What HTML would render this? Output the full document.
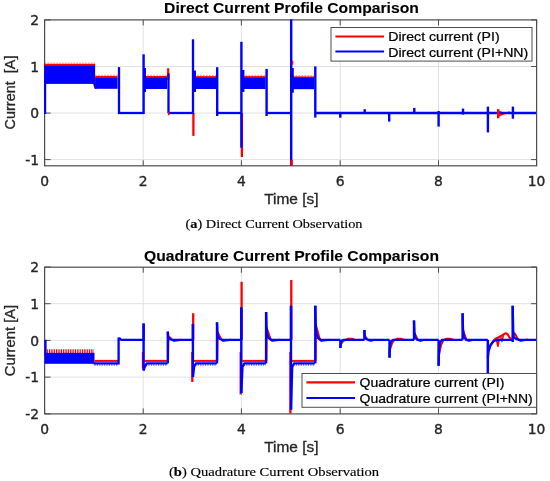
<!DOCTYPE html>
<html><head><meta charset="utf-8"><title>Current Profile Comparison</title>
<style>html,body{margin:0;padding:0;background:#fff;overflow:hidden;}svg{display:block;}</style></head>
<body><svg width="550" height="481" viewBox="0 0 550 481">
<rect width="550" height="481" fill="#fff"/>
<line x1="143.20" y1="19.90" x2="143.20" y2="165.80" stroke="#e2e2e2" stroke-width="1.0" />
<line x1="241.40" y1="19.90" x2="241.40" y2="165.80" stroke="#e2e2e2" stroke-width="1.0" />
<line x1="340.20" y1="19.90" x2="340.20" y2="165.80" stroke="#e2e2e2" stroke-width="1.0" />
<line x1="438.50" y1="19.90" x2="438.50" y2="165.80" stroke="#e2e2e2" stroke-width="1.0" />
<line x1="44.60" y1="66.50" x2="536.60" y2="66.50" stroke="#e2e2e2" stroke-width="1.0" />
<line x1="44.60" y1="113.05" x2="536.60" y2="113.05" stroke="#e2e2e2" stroke-width="1.0" />
<line x1="44.60" y1="159.60" x2="536.60" y2="159.60" stroke="#e2e2e2" stroke-width="1.0" />
<rect x="44.60" y="19.90" width="492.00" height="145.90" fill="none" stroke="#4d4d4d" stroke-width="1.2"/>
<line x1="44.60" y1="165.80" x2="44.60" y2="160.30" stroke="#4d4d4d" stroke-width="1" />
<line x1="44.60" y1="19.90" x2="44.60" y2="25.40" stroke="#4d4d4d" stroke-width="1" />
<line x1="143.20" y1="165.80" x2="143.20" y2="160.30" stroke="#4d4d4d" stroke-width="1" />
<line x1="143.20" y1="19.90" x2="143.20" y2="25.40" stroke="#4d4d4d" stroke-width="1" />
<line x1="241.40" y1="165.80" x2="241.40" y2="160.30" stroke="#4d4d4d" stroke-width="1" />
<line x1="241.40" y1="19.90" x2="241.40" y2="25.40" stroke="#4d4d4d" stroke-width="1" />
<line x1="340.20" y1="165.80" x2="340.20" y2="160.30" stroke="#4d4d4d" stroke-width="1" />
<line x1="340.20" y1="19.90" x2="340.20" y2="25.40" stroke="#4d4d4d" stroke-width="1" />
<line x1="438.50" y1="165.80" x2="438.50" y2="160.30" stroke="#4d4d4d" stroke-width="1" />
<line x1="438.50" y1="19.90" x2="438.50" y2="25.40" stroke="#4d4d4d" stroke-width="1" />
<line x1="536.60" y1="165.80" x2="536.60" y2="160.30" stroke="#4d4d4d" stroke-width="1" />
<line x1="536.60" y1="19.90" x2="536.60" y2="25.40" stroke="#4d4d4d" stroke-width="1" />
<line x1="44.60" y1="19.95" x2="50.60" y2="19.95" stroke="#4d4d4d" stroke-width="1" />
<line x1="536.60" y1="19.95" x2="531.10" y2="19.95" stroke="#4d4d4d" stroke-width="1" />
<line x1="44.60" y1="66.50" x2="50.60" y2="66.50" stroke="#4d4d4d" stroke-width="1" />
<line x1="536.60" y1="66.50" x2="531.10" y2="66.50" stroke="#4d4d4d" stroke-width="1" />
<line x1="44.60" y1="113.05" x2="50.60" y2="113.05" stroke="#4d4d4d" stroke-width="1" />
<line x1="536.60" y1="113.05" x2="531.10" y2="113.05" stroke="#4d4d4d" stroke-width="1" />
<line x1="44.60" y1="159.60" x2="50.60" y2="159.60" stroke="#4d4d4d" stroke-width="1" />
<line x1="536.60" y1="159.60" x2="531.10" y2="159.60" stroke="#4d4d4d" stroke-width="1" />
<line x1="45.10" y1="114.00" x2="45.10" y2="65.80" stroke="#0000ff" stroke-width="2.2" />
<rect x="44.60" y="63.80" width="50.50" height="2.40" fill="#ff0000" />
<line x1="44.60" y1="63.07" x2="95.10" y2="63.07" stroke="#ff0000" stroke-width="0.45" stroke-dasharray="1.59 1.30"/>
<rect x="44.60" y="65.80" width="50.50" height="18.10" fill="#0000ff" />
<polygon points="93.00,83.50 95.60,83.50 96.60,88.80 94.60,88.80" fill="#0000ff"/>
<rect x="95.10" y="75.90" width="22.50" height="2.40" fill="#ff0000" />
<line x1="95.10" y1="75.17" x2="117.60" y2="75.17" stroke="#ff0000" stroke-width="0.45" stroke-dasharray="1.65 1.35"/>
<rect x="95.10" y="77.90" width="22.50" height="10.90" fill="#0000ff" />
<line x1="119.00" y1="67.10" x2="119.00" y2="114.00" stroke="#0000ff" stroke-width="2.3" />
<line x1="118.00" y1="113.00" x2="143.60" y2="113.00" stroke="#0000ff" stroke-width="2.3" />
<line x1="143.60" y1="114.00" x2="143.60" y2="54.30" stroke="#0000ff" stroke-width="2.4" />
<rect x="144.30" y="76.00" width="22.90" height="2.10" fill="#ff0000" />
<line x1="144.30" y1="75.27" x2="167.20" y2="75.27" stroke="#ff0000" stroke-width="0.45" stroke-dasharray="1.65 1.35"/>
<rect x="144.30" y="77.70" width="22.90" height="11.30" fill="#0000ff" />
<rect x="143.60" y="68.00" width="2.40" height="24.00" fill="#0000ff" />
<line x1="168.20" y1="68.30" x2="168.20" y2="80.00" stroke="#ff0000" stroke-width="2.2" />
<line x1="168.50" y1="73.30" x2="168.50" y2="113.00" stroke="#0000ff" stroke-width="2.3" />
<line x1="168.70" y1="112.00" x2="168.70" y2="115.20" stroke="#ff0000" stroke-width="1.8" />
<line x1="169.30" y1="113.00" x2="193.00" y2="113.00" stroke="#0000ff" stroke-width="2.3" />
<line x1="193.40" y1="113.00" x2="193.40" y2="135.90" stroke="#ff0000" stroke-width="2.3" />
<line x1="193.00" y1="114.00" x2="193.00" y2="39.30" stroke="#0000ff" stroke-width="2.3" />
<rect x="194.00" y="76.10" width="22.20" height="2.10" fill="#ff0000" />
<line x1="194.00" y1="75.37" x2="216.20" y2="75.37" stroke="#ff0000" stroke-width="0.45" stroke-dasharray="1.65 1.35"/>
<rect x="194.00" y="77.80" width="22.20" height="11.20" fill="#0000ff" />
<rect x="193.00" y="70.60" width="3.00" height="21.40" fill="#0000ff" />
<line x1="217.20" y1="67.20" x2="217.20" y2="116.00" stroke="#0000ff" stroke-width="2.4" />
<line x1="217.20" y1="113.00" x2="241.40" y2="113.00" stroke="#0000ff" stroke-width="2.3" />
<line x1="241.90" y1="113.00" x2="241.90" y2="157.00" stroke="#ff0000" stroke-width="2.3" />
<line x1="241.40" y1="41.80" x2="241.40" y2="147.70" stroke="#0000ff" stroke-width="2.4" />
<rect x="242.50" y="76.10" width="23.10" height="2.10" fill="#ff0000" />
<line x1="242.50" y1="75.37" x2="265.60" y2="75.37" stroke="#ff0000" stroke-width="0.45" stroke-dasharray="1.65 1.35"/>
<rect x="242.50" y="77.80" width="23.10" height="11.20" fill="#0000ff" />
<rect x="241.40" y="70.00" width="3.00" height="22.00" fill="#0000ff" />
<line x1="266.60" y1="68.90" x2="266.60" y2="116.00" stroke="#0000ff" stroke-width="2.4" />
<line x1="266.60" y1="113.00" x2="291.20" y2="113.00" stroke="#0000ff" stroke-width="2.3" />
<rect x="292.50" y="76.40" width="21.50" height="1.60" fill="#ff0000" />
<line x1="292.50" y1="75.67" x2="314.00" y2="75.67" stroke="#ff0000" stroke-width="0.45" stroke-dasharray="1.65 1.35"/>
<rect x="292.50" y="77.60" width="21.50" height="11.60" fill="#0000ff" />
<rect x="291.20" y="68.00" width="2.60" height="24.80" fill="#0000ff" />
<line x1="291.20" y1="19.30" x2="291.20" y2="165.80" stroke="#0000ff" stroke-width="2.4" />
<line x1="291.60" y1="159.80" x2="291.60" y2="165.80" stroke="#ff0000" stroke-width="2.4" />
<line x1="292.50" y1="60.80" x2="292.50" y2="64.80" stroke="#ff0000" stroke-width="1.6" />
<line x1="315.30" y1="66.40" x2="315.30" y2="117.60" stroke="#0000ff" stroke-width="2.4" />
<line x1="315.30" y1="113.00" x2="536.10" y2="113.00" stroke="#0000ff" stroke-width="2.3" />
<line x1="340.30" y1="113.00" x2="340.30" y2="117.70" stroke="#0000ff" stroke-width="2.4" />
<line x1="364.70" y1="109.20" x2="364.70" y2="113.00" stroke="#0000ff" stroke-width="2.4" />
<line x1="389.20" y1="113.00" x2="389.20" y2="121.60" stroke="#0000ff" stroke-width="2.4" />
<line x1="414.30" y1="107.90" x2="414.30" y2="113.00" stroke="#0000ff" stroke-width="2.4" />
<line x1="438.60" y1="111.00" x2="438.60" y2="126.60" stroke="#0000ff" stroke-width="2.4" />
<line x1="463.00" y1="108.60" x2="463.00" y2="114.60" stroke="#0000ff" stroke-width="2.4" />
<line x1="487.90" y1="106.60" x2="487.90" y2="132.40" stroke="#0000ff" stroke-width="2.4" />
<line x1="512.90" y1="106.60" x2="512.90" y2="118.70" stroke="#0000ff" stroke-width="2.4" />
<line x1="498.20" y1="109.10" x2="498.20" y2="118.30" stroke="#ff0000" stroke-width="2.4" />
<polygon points="499.00,110.80 499.00,116.60 507.00,113.40" fill="#ff0000"/>
<line x1="509.00" y1="111.20" x2="509.00" y2="112.60" stroke="#ff0000" stroke-width="1.2" />
<line x1="499.50" y1="113.00" x2="512.00" y2="113.00" stroke="#0000ff" stroke-width="2.0" />
<text transform="translate(39.00,25.25) scale(1.02,1)" font-family="'DejaVu Sans', 'Liberation Sans', sans-serif" font-size="13.6" font-weight="normal" text-anchor="end" fill="#262626" stroke="#262626" stroke-width="0.35">2</text>
<text transform="translate(39.00,71.80) scale(1.02,1)" font-family="'DejaVu Sans', 'Liberation Sans', sans-serif" font-size="13.6" font-weight="normal" text-anchor="end" fill="#262626" stroke="#262626" stroke-width="0.35">1</text>
<text transform="translate(39.00,118.35) scale(1.02,1)" font-family="'DejaVu Sans', 'Liberation Sans', sans-serif" font-size="13.6" font-weight="normal" text-anchor="end" fill="#262626" stroke="#262626" stroke-width="0.35">0</text>
<text transform="translate(39.00,164.90) scale(1.02,1)" font-family="'DejaVu Sans', 'Liberation Sans', sans-serif" font-size="13.6" font-weight="normal" text-anchor="end" fill="#262626" stroke="#262626" stroke-width="0.35">-1</text>
<text transform="translate(44.60,186.00) scale(1.02,1)" font-family="'DejaVu Sans', 'Liberation Sans', sans-serif" font-size="13.6" font-weight="normal" text-anchor="middle" fill="#262626" stroke="#262626" stroke-width="0.35">0</text>
<text transform="translate(143.20,186.00) scale(1.02,1)" font-family="'DejaVu Sans', 'Liberation Sans', sans-serif" font-size="13.6" font-weight="normal" text-anchor="middle" fill="#262626" stroke="#262626" stroke-width="0.35">2</text>
<text transform="translate(241.40,186.00) scale(1.02,1)" font-family="'DejaVu Sans', 'Liberation Sans', sans-serif" font-size="13.6" font-weight="normal" text-anchor="middle" fill="#262626" stroke="#262626" stroke-width="0.35">4</text>
<text transform="translate(340.20,186.00) scale(1.02,1)" font-family="'DejaVu Sans', 'Liberation Sans', sans-serif" font-size="13.6" font-weight="normal" text-anchor="middle" fill="#262626" stroke="#262626" stroke-width="0.35">6</text>
<text transform="translate(438.50,186.00) scale(1.02,1)" font-family="'DejaVu Sans', 'Liberation Sans', sans-serif" font-size="13.6" font-weight="normal" text-anchor="middle" fill="#262626" stroke="#262626" stroke-width="0.35">8</text>
<text transform="translate(536.60,186.00) scale(1.02,1)" font-family="'DejaVu Sans', 'Liberation Sans', sans-serif" font-size="13.6" font-weight="normal" text-anchor="middle" fill="#262626" stroke="#262626" stroke-width="0.35">10</text>
<rect x="331.0" y="27.5" width="201.0" height="33.6" fill="#fff" stroke="#4d4d4d" stroke-width="1"/>
<line x1="335.40" y1="36.50" x2="384.00" y2="36.50" stroke="#ff0000" stroke-width="2.2" />
<line x1="335.40" y1="51.50" x2="384.00" y2="51.50" stroke="#0000ff" stroke-width="2.2" />
<text transform="translate(388.20,41.10) scale(1.14,1)" font-family="'Liberation Sans', Arial, sans-serif" font-size="12.4" font-weight="normal" text-anchor="start" fill="#000" stroke="#000" stroke-width="0.22">Direct current (PI)</text>
<text transform="translate(388.20,56.50) scale(1.14,1)" font-family="'Liberation Sans', Arial, sans-serif" font-size="12.4" font-weight="normal" text-anchor="start" fill="#000" stroke="#000" stroke-width="0.22">Direct current (PI+NN)</text>
<text transform="translate(291.50,13.40) scale(1.13,1)" font-family="'Liberation Sans', Arial, sans-serif" font-size="13.9" font-weight="bold" text-anchor="middle" fill="#000" stroke="#000" stroke-width="0.1">Direct Current Profile Comparison</text>
<text transform="translate(291.30,204.10) scale(1.12,1)" font-family="'Liberation Sans', Arial, sans-serif" font-size="13.8" font-weight="normal" text-anchor="middle" fill="#262626" stroke="#262626" stroke-width="0.3">Time [s]</text>
<text xml:space="preserve" transform="translate(15.00,92.50) rotate(-90)" font-family="'Liberation Sans', Arial, sans-serif" font-size="14.45" font-weight="normal" text-anchor="middle" fill="#262626" stroke="#262626" stroke-width="0.3">Current  [A]</text>
<text transform="translate(274,228) scale(1.085,1)" font-family="'Liberation Serif', serif" font-size="13.2" text-anchor="middle" fill="#000" stroke="#000" stroke-width="0.15">(<tspan font-weight="bold">a</tspan>) Direct Current Observation</text>
<line x1="143.20" y1="267.20" x2="143.20" y2="413.90" stroke="#e2e2e2" stroke-width="1.0" />
<line x1="241.40" y1="267.20" x2="241.40" y2="413.90" stroke="#e2e2e2" stroke-width="1.0" />
<line x1="340.20" y1="267.20" x2="340.20" y2="413.90" stroke="#e2e2e2" stroke-width="1.0" />
<line x1="438.50" y1="267.20" x2="438.50" y2="413.90" stroke="#e2e2e2" stroke-width="1.0" />
<line x1="44.60" y1="303.70" x2="536.60" y2="303.70" stroke="#e2e2e2" stroke-width="1.0" />
<line x1="44.60" y1="340.40" x2="536.60" y2="340.40" stroke="#e2e2e2" stroke-width="1.0" />
<line x1="44.60" y1="377.10" x2="536.60" y2="377.10" stroke="#e2e2e2" stroke-width="1.0" />
<rect x="44.60" y="267.20" width="492.00" height="146.70" fill="none" stroke="#4d4d4d" stroke-width="1.2"/>
<line x1="44.60" y1="413.90" x2="44.60" y2="408.40" stroke="#4d4d4d" stroke-width="1" />
<line x1="44.60" y1="267.20" x2="44.60" y2="272.70" stroke="#4d4d4d" stroke-width="1" />
<line x1="143.20" y1="413.90" x2="143.20" y2="408.40" stroke="#4d4d4d" stroke-width="1" />
<line x1="143.20" y1="267.20" x2="143.20" y2="272.70" stroke="#4d4d4d" stroke-width="1" />
<line x1="241.40" y1="413.90" x2="241.40" y2="408.40" stroke="#4d4d4d" stroke-width="1" />
<line x1="241.40" y1="267.20" x2="241.40" y2="272.70" stroke="#4d4d4d" stroke-width="1" />
<line x1="340.20" y1="413.90" x2="340.20" y2="408.40" stroke="#4d4d4d" stroke-width="1" />
<line x1="340.20" y1="267.20" x2="340.20" y2="272.70" stroke="#4d4d4d" stroke-width="1" />
<line x1="438.50" y1="413.90" x2="438.50" y2="408.40" stroke="#4d4d4d" stroke-width="1" />
<line x1="438.50" y1="267.20" x2="438.50" y2="272.70" stroke="#4d4d4d" stroke-width="1" />
<line x1="536.60" y1="413.90" x2="536.60" y2="408.40" stroke="#4d4d4d" stroke-width="1" />
<line x1="536.60" y1="267.20" x2="536.60" y2="272.70" stroke="#4d4d4d" stroke-width="1" />
<line x1="44.60" y1="267.00" x2="50.60" y2="267.00" stroke="#4d4d4d" stroke-width="1" />
<line x1="536.60" y1="267.00" x2="531.10" y2="267.00" stroke="#4d4d4d" stroke-width="1" />
<line x1="44.60" y1="303.70" x2="50.60" y2="303.70" stroke="#4d4d4d" stroke-width="1" />
<line x1="536.60" y1="303.70" x2="531.10" y2="303.70" stroke="#4d4d4d" stroke-width="1" />
<line x1="44.60" y1="340.40" x2="50.60" y2="340.40" stroke="#4d4d4d" stroke-width="1" />
<line x1="536.60" y1="340.40" x2="531.10" y2="340.40" stroke="#4d4d4d" stroke-width="1" />
<line x1="44.60" y1="377.10" x2="50.60" y2="377.10" stroke="#4d4d4d" stroke-width="1" />
<line x1="536.60" y1="377.10" x2="531.10" y2="377.10" stroke="#4d4d4d" stroke-width="1" />
<line x1="44.60" y1="413.80" x2="50.60" y2="413.80" stroke="#4d4d4d" stroke-width="1" />
<line x1="536.60" y1="413.80" x2="531.10" y2="413.80" stroke="#4d4d4d" stroke-width="1" />
<line x1="45.50" y1="339.80" x2="45.50" y2="356.00" stroke="#0000ff" stroke-width="2.2" />
<line x1="46.60" y1="351.15" x2="94.00" y2="351.15" stroke="#ff0000" stroke-width="3.9" stroke-dasharray="1.29 1.06"/>
<rect x="44.60" y="352.80" width="49.90" height="11.00" fill="#0000ff" />
<line x1="94.50" y1="360.90" x2="118.20" y2="360.90" stroke="#ff0000" stroke-width="2.0" />
<line x1="93.50" y1="363.40" x2="118.20" y2="363.40" stroke="#0000ff" stroke-width="2.3" />
<line x1="94.50" y1="365.00" x2="118.20" y2="365.00" stroke="#0000ff" stroke-width="1.2" stroke-dasharray="1.1 1.3"/>
<polyline points="118.60,364.40 118.60,338.30 119.60,338.30 121.00,339.80 143.60,339.80" fill="none" stroke="#0000ff" stroke-width="2.3" stroke-linejoin="round" />
<line x1="143.00" y1="352.00" x2="143.00" y2="368.60" stroke="#ff0000" stroke-width="2.3" />
<line x1="144.60" y1="360.90" x2="167.60" y2="360.90" stroke="#ff0000" stroke-width="2.0" />
<polyline points="142.10,339.80 143.60,339.80 143.60,323.50" fill="none" stroke="#0000ff" stroke-width="2.3" stroke-linejoin="round" />
<line x1="143.60" y1="323.50" x2="143.60" y2="370.50" stroke="#0000ff" stroke-width="2.4" />
<polyline points="143.60,370.50 144.80,367.00 146.60,363.40 167.60,363.40" fill="none" stroke="#0000ff" stroke-width="2.3" stroke-linejoin="round" />
<line x1="146.10" y1="365.00" x2="167.60" y2="365.00" stroke="#0000ff" stroke-width="1.2" stroke-dasharray="1.1 1.3"/>
<polyline points="168.00,360.90 168.40,336.36 169.80,337.50 171.80,339.31 173.80,341.00 176.80,340.40 181.80,339.80" fill="none" stroke="#ff0000" stroke-width="2.1" stroke-linejoin="round" />
<polyline points="167.80,363.40 167.80,331.60" fill="none" stroke="#0000ff" stroke-width="2.4" stroke-linejoin="round" />
<polyline points="167.80,331.60 168.20,336.11 168.80,338.16 170.30,339.31 172.80,339.80 193.00,339.80" fill="none" stroke="#0000ff" stroke-width="2.3" stroke-linejoin="round" />
<line x1="193.20" y1="313.20" x2="193.20" y2="339.80" stroke="#ff0000" stroke-width="2.3" />
<line x1="192.30" y1="352.00" x2="192.30" y2="382.00" stroke="#ff0000" stroke-width="2.3" />
<line x1="193.90" y1="360.90" x2="216.80" y2="360.90" stroke="#ff0000" stroke-width="2.0" />
<polyline points="191.40,339.80 192.90,339.80 192.90,324.00" fill="none" stroke="#0000ff" stroke-width="2.3" stroke-linejoin="round" />
<line x1="192.90" y1="324.00" x2="192.90" y2="376.80" stroke="#0000ff" stroke-width="2.4" />
<polyline points="192.90,376.80 194.10,367.00 195.90,363.40 216.80,363.40" fill="none" stroke="#0000ff" stroke-width="2.3" stroke-linejoin="round" />
<line x1="195.40" y1="365.00" x2="216.80" y2="365.00" stroke="#0000ff" stroke-width="1.2" stroke-dasharray="1.1 1.3"/>
<polyline points="217.20,360.90 217.60,332.49 219.00,334.93 221.00,338.76 223.00,341.00 226.00,340.40 231.00,339.80" fill="none" stroke="#ff0000" stroke-width="2.1" stroke-linejoin="round" />
<polyline points="217.00,363.40 217.00,322.40" fill="none" stroke="#0000ff" stroke-width="2.4" stroke-linejoin="round" />
<polyline points="217.00,322.40 217.40,331.97 218.00,336.32 219.50,338.76 222.00,339.80 241.40,339.80" fill="none" stroke="#0000ff" stroke-width="2.3" stroke-linejoin="round" />
<line x1="241.60" y1="281.80" x2="241.60" y2="339.80" stroke="#ff0000" stroke-width="2.3" />
<line x1="240.70" y1="352.00" x2="240.70" y2="394.50" stroke="#ff0000" stroke-width="2.3" />
<line x1="242.30" y1="360.90" x2="265.80" y2="360.90" stroke="#ff0000" stroke-width="2.0" />
<polyline points="239.80,339.80 241.30,339.80 241.30,307.40" fill="none" stroke="#0000ff" stroke-width="2.3" stroke-linejoin="round" />
<line x1="241.30" y1="307.40" x2="241.30" y2="393.00" stroke="#0000ff" stroke-width="2.4" />
<polyline points="241.30,393.00 242.50,367.00 244.30,363.40 265.80,363.40" fill="none" stroke="#0000ff" stroke-width="2.3" stroke-linejoin="round" />
<line x1="243.80" y1="365.00" x2="265.80" y2="365.00" stroke="#0000ff" stroke-width="1.2" stroke-dasharray="1.1 1.3"/>
<polyline points="266.30,360.90 266.70,328.12 268.10,332.02 270.10,338.13 272.10,341.00 275.10,340.40 280.10,339.80" fill="none" stroke="#ff0000" stroke-width="2.1" stroke-linejoin="round" />
<polyline points="266.10,363.40 266.10,312.00" fill="none" stroke="#0000ff" stroke-width="2.4" stroke-linejoin="round" />
<polyline points="266.10,312.00 266.50,327.29 267.10,334.24 268.60,338.13 271.10,339.80 291.00,339.80" fill="none" stroke="#0000ff" stroke-width="2.3" stroke-linejoin="round" />
<line x1="291.30" y1="280.00" x2="291.30" y2="339.80" stroke="#ff0000" stroke-width="2.3" />
<line x1="290.40" y1="352.00" x2="290.40" y2="413.50" stroke="#ff0000" stroke-width="2.3" />
<line x1="292.00" y1="360.90" x2="314.80" y2="360.90" stroke="#ff0000" stroke-width="2.0" />
<polyline points="289.50,339.80 291.00,339.80 291.00,305.80" fill="none" stroke="#0000ff" stroke-width="2.3" stroke-linejoin="round" />
<line x1="291.00" y1="305.80" x2="291.00" y2="409.50" stroke="#0000ff" stroke-width="2.4" />
<polyline points="291.00,409.50 292.20,367.00 294.00,363.40 314.80,363.40" fill="none" stroke="#0000ff" stroke-width="2.3" stroke-linejoin="round" />
<line x1="293.50" y1="365.00" x2="314.80" y2="365.00" stroke="#0000ff" stroke-width="1.2" stroke-dasharray="1.1 1.3"/>
<polyline points="315.50,360.90 315.90,325.48 317.30,330.25 319.30,337.75 321.30,341.00 324.30,340.40 329.30,339.80" fill="none" stroke="#ff0000" stroke-width="2.1" stroke-linejoin="round" />
<polyline points="315.30,363.40 315.30,305.70" fill="none" stroke="#0000ff" stroke-width="2.4" stroke-linejoin="round" />
<polyline points="315.30,305.70 315.70,324.45 316.30,332.98 317.80,337.75 320.30,339.80 340.40,339.80" fill="none" stroke="#0000ff" stroke-width="2.3" stroke-linejoin="round" />
<polyline points="341.00,344.31 342.90,341.44 345.40,339.80 348.40,338.60 352.40,338.80 355.40,339.80" fill="none" stroke="#ff0000" stroke-width="1.9" stroke-linejoin="round" />
<line x1="340.40" y1="339.80" x2="340.40" y2="348.00" stroke="#0000ff" stroke-width="2.4" />
<polyline points="340.40,348.00 340.80,343.08 341.80,340.62 343.90,339.80 364.40,339.80" fill="none" stroke="#0000ff" stroke-width="2.3" stroke-linejoin="round" />
<polyline points="365.00,336.37 366.40,337.84 368.40,340.10 370.90,341.00 374.40,339.80" fill="none" stroke="#ff0000" stroke-width="1.9" stroke-linejoin="round" />
<line x1="364.40" y1="339.80" x2="364.40" y2="330.00" stroke="#0000ff" stroke-width="2.4" />
<polyline points="364.40,330.00 364.80,335.88 365.80,338.82 367.90,339.80 389.50,339.80" fill="none" stroke="#0000ff" stroke-width="2.3" stroke-linejoin="round" />
<polyline points="390.10,349.59 392.00,343.36 394.50,339.80 397.50,338.60 401.50,338.80 404.50,339.80" fill="none" stroke="#ff0000" stroke-width="1.9" stroke-linejoin="round" />
<line x1="389.50" y1="339.80" x2="389.50" y2="357.60" stroke="#0000ff" stroke-width="2.4" />
<polyline points="389.50,357.60 389.90,346.92 390.90,341.58 393.00,339.80 414.00,339.80" fill="none" stroke="#0000ff" stroke-width="2.3" stroke-linejoin="round" />
<polyline points="414.60,333.05 416.00,335.94 418.00,340.10 420.50,341.00 424.00,339.80" fill="none" stroke="#ff0000" stroke-width="1.9" stroke-linejoin="round" />
<line x1="414.00" y1="339.80" x2="414.00" y2="320.50" stroke="#0000ff" stroke-width="2.4" />
<polyline points="414.00,320.50 414.40,332.08 415.40,337.87 417.50,339.80 438.60,339.80" fill="none" stroke="#0000ff" stroke-width="2.3" stroke-linejoin="round" />
<polyline points="439.20,354.10 441.10,345.00 443.60,339.80 446.60,338.60 450.60,338.80 453.60,339.80" fill="none" stroke="#ff0000" stroke-width="1.9" stroke-linejoin="round" />
<line x1="438.60" y1="339.80" x2="438.60" y2="365.80" stroke="#0000ff" stroke-width="2.4" />
<polyline points="438.60,365.80 439.00,350.20 440.00,342.40 442.10,339.80 462.60,339.80" fill="none" stroke="#0000ff" stroke-width="2.3" stroke-linejoin="round" />
<polyline points="463.20,330.53 464.60,334.50 466.60,340.10 469.10,341.00 472.60,339.80" fill="none" stroke="#ff0000" stroke-width="1.9" stroke-linejoin="round" />
<line x1="462.60" y1="339.80" x2="462.60" y2="313.30" stroke="#0000ff" stroke-width="2.4" />
<polyline points="462.60,313.30 463.00,329.20 464.00,337.15 466.10,339.80 487.80,339.80" fill="none" stroke="#0000ff" stroke-width="2.3" stroke-linejoin="round" />
<polyline points="488.60,349.80 490.50,345.50 493.00,341.50 495.60,338.60 499.00,337.00 502.00,335.50 505.70,333.20 507.50,334.00 509.60,337.60 511.50,339.50" fill="none" stroke="#ff0000" stroke-width="2.1" stroke-linejoin="round" />
<polyline points="496.60,339.50 497.90,346.00 499.20,338.50" fill="none" stroke="#ff0000" stroke-width="1.8" stroke-linejoin="round" />
<polyline points="500.50,336.50 502.00,341.50 503.50,335.00" fill="none" stroke="#ff0000" stroke-width="1.4" stroke-linejoin="round" />
<polyline points="513.40,333.50 515.00,333.80 517.50,338.50 520.50,341.00 524.00,340.30 528.00,339.60" fill="none" stroke="#ff0000" stroke-width="2.0" stroke-linejoin="round" />
<line x1="487.80" y1="339.80" x2="487.80" y2="375.00" stroke="#0000ff" stroke-width="2.5" />
<polyline points="487.80,358.00 488.60,351.40 490.50,345.00 494.00,340.80 497.00,339.80 512.70,339.80" fill="none" stroke="#0000ff" stroke-width="2.3" stroke-linejoin="round" />
<line x1="512.70" y1="342.00" x2="512.70" y2="305.60" stroke="#0000ff" stroke-width="2.5" />
<polyline points="512.70,306.00 513.20,330.00 513.80,337.40 516.00,338.80 519.00,339.80 536.10,339.80" fill="none" stroke="#0000ff" stroke-width="2.3" stroke-linejoin="round" />
<text transform="translate(39.00,272.30) scale(1.02,1)" font-family="'DejaVu Sans', 'Liberation Sans', sans-serif" font-size="13.6" font-weight="normal" text-anchor="end" fill="#262626" stroke="#262626" stroke-width="0.35">2</text>
<text transform="translate(39.00,309.00) scale(1.02,1)" font-family="'DejaVu Sans', 'Liberation Sans', sans-serif" font-size="13.6" font-weight="normal" text-anchor="end" fill="#262626" stroke="#262626" stroke-width="0.35">1</text>
<text transform="translate(39.00,345.70) scale(1.02,1)" font-family="'DejaVu Sans', 'Liberation Sans', sans-serif" font-size="13.6" font-weight="normal" text-anchor="end" fill="#262626" stroke="#262626" stroke-width="0.35">0</text>
<text transform="translate(39.00,382.40) scale(1.02,1)" font-family="'DejaVu Sans', 'Liberation Sans', sans-serif" font-size="13.6" font-weight="normal" text-anchor="end" fill="#262626" stroke="#262626" stroke-width="0.35">-1</text>
<text transform="translate(39.00,419.10) scale(1.02,1)" font-family="'DejaVu Sans', 'Liberation Sans', sans-serif" font-size="13.6" font-weight="normal" text-anchor="end" fill="#262626" stroke="#262626" stroke-width="0.35">-2</text>
<text transform="translate(44.60,433.50) scale(1.02,1)" font-family="'DejaVu Sans', 'Liberation Sans', sans-serif" font-size="13.6" font-weight="normal" text-anchor="middle" fill="#262626" stroke="#262626" stroke-width="0.35">0</text>
<text transform="translate(143.20,433.50) scale(1.02,1)" font-family="'DejaVu Sans', 'Liberation Sans', sans-serif" font-size="13.6" font-weight="normal" text-anchor="middle" fill="#262626" stroke="#262626" stroke-width="0.35">2</text>
<text transform="translate(241.40,433.50) scale(1.02,1)" font-family="'DejaVu Sans', 'Liberation Sans', sans-serif" font-size="13.6" font-weight="normal" text-anchor="middle" fill="#262626" stroke="#262626" stroke-width="0.35">4</text>
<text transform="translate(340.20,433.50) scale(1.02,1)" font-family="'DejaVu Sans', 'Liberation Sans', sans-serif" font-size="13.6" font-weight="normal" text-anchor="middle" fill="#262626" stroke="#262626" stroke-width="0.35">6</text>
<text transform="translate(438.50,433.50) scale(1.02,1)" font-family="'DejaVu Sans', 'Liberation Sans', sans-serif" font-size="13.6" font-weight="normal" text-anchor="middle" fill="#262626" stroke="#262626" stroke-width="0.35">8</text>
<text transform="translate(536.60,433.50) scale(1.02,1)" font-family="'DejaVu Sans', 'Liberation Sans', sans-serif" font-size="13.6" font-weight="normal" text-anchor="middle" fill="#262626" stroke="#262626" stroke-width="0.35">10</text>
<rect x="302.0" y="373.5" width="234.60000000000002" height="33.8" fill="#fff" stroke="#4d4d4d" stroke-width="1"/>
<line x1="306.40" y1="382.30" x2="355.00" y2="382.30" stroke="#ff0000" stroke-width="2.2" />
<line x1="306.40" y1="398.00" x2="355.00" y2="398.00" stroke="#0000ff" stroke-width="2.2" />
<text transform="translate(359.60,387.10) scale(1.13,1)" font-family="'Liberation Sans', Arial, sans-serif" font-size="12.4" font-weight="normal" text-anchor="start" fill="#000" stroke="#000" stroke-width="0.22">Quadrature current (PI)</text>
<text transform="translate(359.60,402.50) scale(1.13,1)" font-family="'Liberation Sans', Arial, sans-serif" font-size="12.4" font-weight="normal" text-anchor="start" fill="#000" stroke="#000" stroke-width="0.22">Quadrature current (PI+NN)</text>
<text transform="translate(291.50,260.60) scale(1.13,1)" font-family="'Liberation Sans', Arial, sans-serif" font-size="13.9" font-weight="bold" text-anchor="middle" fill="#000" stroke="#000" stroke-width="0.1">Quadrature Current Profile Comparison</text>
<text transform="translate(291.30,452.00) scale(1.12,1)" font-family="'Liberation Sans', Arial, sans-serif" font-size="13.8" font-weight="normal" text-anchor="middle" fill="#262626" stroke="#262626" stroke-width="0.3">Time [s]</text>
<text transform="translate(15.00,340.50) rotate(-90)" font-family="'Liberation Sans', Arial, sans-serif" font-size="14.75" font-weight="normal" text-anchor="middle" fill="#262626" stroke="#262626" stroke-width="0.3">Current [A]</text>
<text transform="translate(274,475.8) scale(1.105,1)" font-family="'Liberation Serif', serif" font-size="13.2" text-anchor="middle" fill="#000" stroke="#000" stroke-width="0.15">(<tspan font-weight="bold">b</tspan>) Quadrature Current Observation</text>
</svg></body></html>
